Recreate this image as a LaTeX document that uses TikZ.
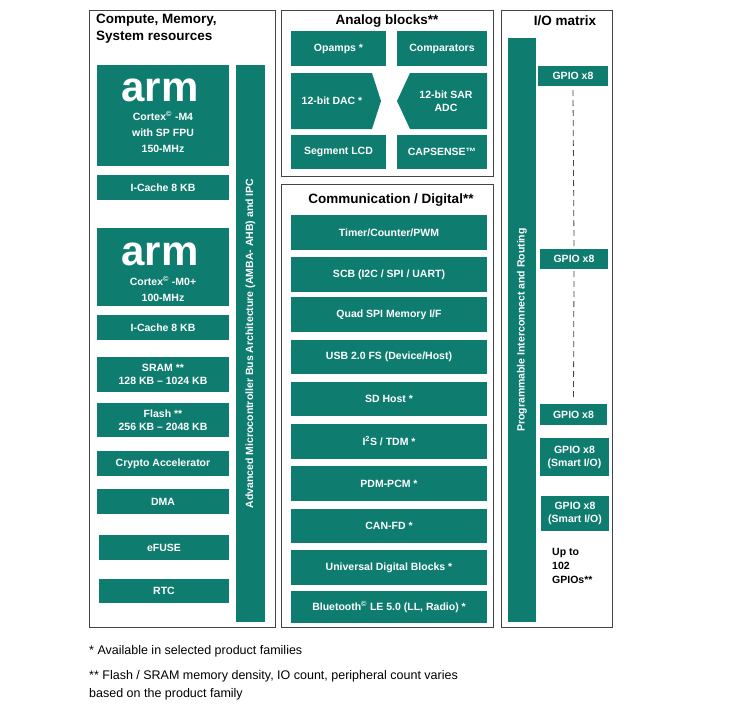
\documentclass[tikz,border=0pt]{standalone}
\usepackage{fontspec}
\setmainfont{Liberation Sans}
\usetikzlibrary{positioning}
\definecolor{ipteal}{HTML}{0E7D6F}
\definecolor{panelgray}{HTML}{444444}
\tikzset{
  panel/.style={draw=panelgray, line width=0.8pt},
  blk/.style={fill=ipteal, text=white, inner sep=1pt, align=center,
    font=\fontsize{10.5}{13}\selectfont\bfseries},
  ttl/.style={inner sep=0pt, font=\fontsize{13.5}{17}\selectfont\bfseries},
  note/.style={inner sep=0pt, anchor=west, align=left, font=\fontsize{12.5}{18}\selectfont}
}
\newcommand{\blkat}[6]{% name, x1, y1, x2, y2, text
  \node[blk, minimum width={#4-#2}, minimum height={#5-#3}] (#1) at ({(#2+#4)/2},{(#3+#5)/2}) {#6};}
\begin{document}
\begin{tikzpicture}[x=1pt,y=-1pt]
  \useasboundingbox (0,0) rectangle (742,716);

  % panels
  \draw[panel] (89,10) rectangle (275,627);
  \draw[panel] (281,10) rectangle (493,176);
  \draw[panel] (281,184) rectangle (493,627);
  \draw[panel] (501,10) rectangle (612,627);

  % compute, memory, system resources
  \node[ttl, anchor=north west, align=left] (cmpttl) at (96,14) {Compute, Memory,\\System resources};
  \blkat{cm4}{97}{65}{229}{166}{}
  \node[text=white, inner sep=0pt, font=\fontsize{42}{42}\selectfont\bfseries] (arm1) at (160,90) {arm};
  \node[text=white, inner sep=0pt, align=center, font=\fontsize{10.5}{16}\selectfont\bfseries] (cm4txt) at (163,132)
    {Cortex\textsuperscript{\textcopyright} -M4\\with SP FPU\\150-MHz};
  \blkat{ic1}{97}{175}{229}{200}{I-Cache 8 KB}
  \blkat{cm0}{97}{228}{229}{306}{}
  \node[text=white, inner sep=0pt, font=\fontsize{42}{42}\selectfont\bfseries] (arm2) at (160,254) {arm};
  \node[text=white, inner sep=0pt, align=center, font=\fontsize{10.5}{16}\selectfont\bfseries] (cm0txt) at (163,289)
    {Cortex\textsuperscript{\textcopyright} -M0+\\100-MHz};
  \blkat{ic2}{97}{315}{229}{340}{I-Cache 8 KB}
  \blkat{sram}{97}{357}{229}{392}{SRAM **\\128 KB -- 1024 KB}
  \blkat{flash}{97}{403}{229}{437}{Flash **\\256 KB -- 2048 KB}
  \blkat{crypto}{97}{451}{229}{476}{Crypto Accelerator}
  \blkat{dma}{97}{489}{229}{514}{DMA}
  \blkat{efuse}{99}{535}{229}{560}{eFUSE}
  \blkat{rtc}{99}{579}{229}{603}{RTC}
  \blkat{bus}{236}{65}{265}{622}{}
  \node[blk, fill=none, rotate=90] (bustxt) at (bus) {Advanced Microcontroller Bus Architecture (AMBA- AHB) and IPC};

  % analog blocks
  \node[ttl] (anattl) at (387,21) {Analog blocks**};
  \blkat{opamp}{291}{31}{386}{66}{Opamps *}
  \blkat{comp}{397}{31}{487}{66}{Comparators}
  \fill[ipteal] (291,73) -- (372,73) -- (381,101) -- (372,129) -- (291,129) -- cycle;
  \node[blk, fill=none] (dac) at (332,101) {12-bit DAC *};
  \fill[ipteal] (487,73) -- (410,73) -- (397,101) -- (410,129) -- (487,129) -- cycle;
  \node[blk, fill=none] (adc) at (446,101) {12-bit SAR\\ADC};
  \blkat{lcd}{291}{135}{386}{169}{Segment LCD}
  \blkat{caps}{397}{135}{487}{169}{CAPSENSE\texttrademark}

  % communication / digital
  \node[ttl] (comttl) at (391,200) {Communication / Digital**};
  \blkat{tcpwm}{291}{215}{487}{250}{Timer/Counter/PWM}
  \blkat{scb}{291}{257}{487}{292}{SCB (I2C / SPI / UART)}
  \blkat{qspi}{291}{297}{487}{332}{Quad SPI Memory I/F}
  \blkat{usb}{291}{340}{487}{374}{USB 2.0 FS (Device/Host)}
  \blkat{sdh}{291}{382}{487}{416}{SD Host *}
  \blkat{i2s}{291}{424}{487}{459}{I\textsuperscript{2}S / TDM *}
  \blkat{pdm}{291}{466}{487}{501}{PDM-PCM *}
  \blkat{can}{291}{509}{487}{543}{CAN-FD *}
  \blkat{udb}{291}{550}{487}{585}{Universal Digital Blocks *}
  \blkat{ble}{291}{591}{487}{623}{Bluetooth\textsuperscript{\textcopyright} LE 5.0 (LL, Radio) *}

  % I/O matrix
  \node[ttl] (iottl) at (565,21) {I/O matrix};
  \blkat{route}{508}{38}{536}{622}{}
  \node[blk, fill=none, rotate=90] (routetxt) at (route) {Programmable Interconnect and Routing};
  \blkat{gpio1}{538}{66}{608}{86}{GPIO x8}
  \blkat{gpio2}{540}{249}{608}{269}{GPIO x8}
  \blkat{gpio3}{540}{404}{607}{425}{GPIO x8}
  \blkat{gpio4}{540}{438}{609}{476}{GPIO x8\\(Smart I/O)}
  \blkat{gpio5}{541}{496}{609}{531}{GPIO x8\\(Smart I/O)}
  \draw[panelgray, line width=0.8pt, dash pattern=on 6pt off 4pt] ([yshift=-4pt]gpio1.south) -- ([yshift=2pt]gpio2.north);
  \draw[panelgray, line width=0.8pt, dash pattern=on 6pt off 4pt] ([yshift=-2pt]gpio2.south) -- ([yshift=4pt]gpio3.north);
  \node[inner sep=0pt, anchor=north west, align=left, font=\fontsize{10.5}{14}\selectfont\bfseries] (upto) at (552,548)
    {Up to\\102\\GPIOs**};

  % footnotes
  \node[note] (fn1) at (89,651) {* Available in selected product families};
  \node[note] (fn2) at (89,685) {** Flash / SRAM memory density, IO count, peripheral count varies\\based on the product family};
\end{tikzpicture}
\end{document}
